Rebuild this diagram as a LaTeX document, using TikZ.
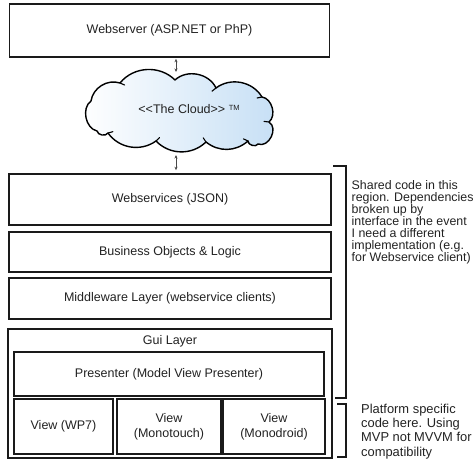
\documentclass[tikz,border=0pt]{standalone}
\usepackage{fontspec}
\setmainfont{Liberation Sans}
\usetikzlibrary{arrows.meta,calc}
\definecolor{ink}{HTML}{1A1A1A}
\definecolor{txt}{HTML}{222222}
\definecolor{cloudblue}{HTML}{C6DFF5}
\begin{document}
\begin{tikzpicture}[x=1pt,y=-1pt,
  box/.style={draw=ink,line width=1.6pt,fill=white,inner sep=0pt,
    font=\fontsize{12.5}{15}\selectfont,text=txt,align=center},
  plain/.style={font=\fontsize{12.5}{15}\selectfont,text=txt,inner sep=0pt},
  dbl/.style={{Stealth[length=3.5pt,width=3pt]}-{Stealth[length=3.5pt,width=3pt]},
    line width=0.6pt,draw=ink!80},
  brk/.style={draw=ink,line width=1.4pt},
  note/.style={align=left,anchor=north west,inner sep=0pt,text=txt},
  cloudline/.style={draw=black,line width=1.4pt,line join=round,line cap=round}]
\useasboundingbox (0,0) rectangle (474,466);

% boxes
\node[box,minimum width=320pt,minimum height=53pt] (ws) at (169.5,30.5) {Webserver (ASP.NET or PhP)};
\node[box,minimum width=322pt,minimum height=51pt] (wsv) at (170,199.5) {Webservices (JSON)};
\node[box,minimum width=322pt,minimum height=40pt] (bol) at (170,252) {Business Objects \& Logic};
\node[box,minimum width=322pt,minimum height=41pt] (mw) at (170,298.5) {Middleware Layer (webservice clients)};
\node[box,minimum width=324pt,minimum height=129pt] (gui) at (170,393.5) {};
\node[plain] (guit) at (170,341) {Gui Layer};
\node[box,minimum width=310pt,minimum height=44pt] (pres) at (169,374) {Presenter (Model View Presenter)};
\node[box,minimum width=99pt,minimum height=55pt] (v1) at (63.5,426.5) {View (WP7)};
\node[box,minimum width=104pt,minimum height=55pt] (v2) at (169,426.5) {View\\(Monotouch)};
\node[box,minimum width=102pt,minimum height=55pt] (v3) at (274,426.5) {View\\(Monodroid)};

% cloud
\coordinate (d1) at (97,131);
\coordinate (d2) at (91,101);
\coordinate (d3) at (120,83);
\coordinate (d4) at (175,80);
\coordinate (d5) at (216,88);
\coordinate (d6) at (262,97);
\coordinate (d7) at (269,122);
\coordinate (d8) at (258,144);
\coordinate (d9) at (248,141);
\coordinate (d10) at (206,142);
\coordinate (d11) at (156,141);
\coordinate (d12) at (108,133);
\coordinate (cc) at (186,112);
\draw[cloudline,left color=white,right color=cloudblue]
  (d1) to[bend left=66] (d2) to[bend left=50] (d3) to[bend left=48] (d4)
  to[bend left=54] (d5) to[bend left=48] (d6) to[bend left=66] (d7)
  to[bend left=85,looseness=1.2] (d8) to[bend left=78] (d9)
  to[bend left=40] (d10) to[bend left=45] (d11) to[bend left=45] (d12)
  to[bend left=68] (d1) -- cycle;
\foreach \d in {d3,d5,d6,d7,d9,d10,d11,d12}
  \draw[cloudline,line width=1.1pt] (\d) -- ($(\d)!5pt!(cc)$);
\node[plain] (cloud) at (189,109.5) {<\kern0pt<The Cloud>\kern0pt> \raisebox{3.5pt}{\fontsize{7.5}{8}\selectfont TM}};

% arrows
\coordinate (ctop) at (176,72);
\coordinate (cbot) at (176,155);
\draw[dbl,shorten <=1pt] (ws.south -| ctop) -- (ctop);
\draw[dbl,shorten >=3pt] (cbot) -- (wsv.north -| cbot);

% brackets
\coordinate (b1a) at (333,166);
\coordinate (b1b) at (346,398);
\coordinate (b1c) at (335,398);
\draw[brk] (b1a) -| (b1b) -- (b1c);
\coordinate (b2a) at (337,404);
\coordinate (b2b) at (346,457);
\coordinate (b2c) at (337,457);
\draw[brk] (b2a) -| (b2b) -- (b2c);

% notes
\node[note,font=\fontsize{12.4}{12}\selectfont] (shared) at (351.5,180) {Shared code in this\\region. Dependencies\\broken up by\\interface in the event\\I need a different\\implementation (e.g.\\for Webservice client)};
\node[note,font=\fontsize{12.9}{14.2}\selectfont] (platform) at (361,404) {Platform specific\\code here. Using\\MVP not MVVM for\\compatibility};
\end{tikzpicture}
\end{document}
